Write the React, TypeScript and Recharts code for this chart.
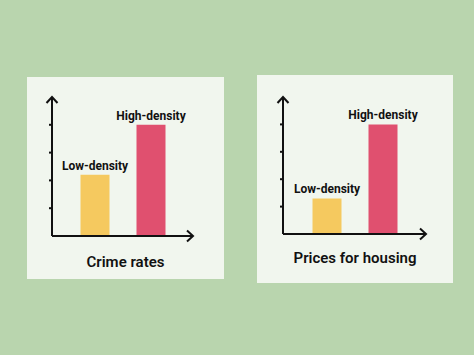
import { BarChart, Bar, XAxis, YAxis, Cell, LabelList } from "recharts";

const categories = ["Low-density", "High-density"];
const crimeValues = [2.2, 4.0];
const priceValues = [1.3, 4.0];
const yTicks = [1, 2, 3, 4];
const barColors = ["#f5c95f", "#e0506f"];

interface PanelProps {
  id: string;
  title: string;
  values: number[];
  left: number;
  top: number;
  width: number;
  height: number;
  margin: { top: number; right: number; bottom: number; left: number };
  pad: number;
  titleTop: number;
}

function Panel({ id, title, values, left, top, width, height, margin, pad, titleTop }: PanelProps) {
  const data = categories.map((name, i) => ({ name, value: values[i] }));
  const markerId = `arrow-${id}`;
  return (
    <div
      style={{
        position: "absolute",
        left,
        top,
        width,
        height,
        background: "#f1f6ee",
      }}
    >
      <BarChart width={width} height={height} data={data} margin={margin}>
        <defs>
          <marker
            id={markerId}
            viewBox="0 0 10 14"
            refX="8"
            refY="7"
            markerWidth="10"
            markerHeight="14"
            markerUnits="userSpaceOnUse"
            orient="auto-start-reverse"
          >
            <path d="M2,1.5 L8,7 L2,12.5" fill="none" stroke="#111" strokeWidth={2} />
          </marker>
        </defs>
        <XAxis
          dataKey="name"
          height={1}
          tick={false}
          tickLine={false}
          padding={{ left: pad, right: pad }}
          axisLine={{ stroke: "#111", strokeWidth: 2, markerEnd: `url(#${markerId})` }}
        />
        <YAxis
          width={1}
          domain={[0, 5]}
          ticks={yTicks}
          tickFormatter={() => ""}
          tickSize={3}
          tickLine={{ stroke: "#111", strokeWidth: 2 }}
          axisLine={{ stroke: "#111", strokeWidth: 2, markerStart: `url(#${markerId})` }}
        />
        <Bar dataKey="value" barSize={29} isAnimationActive={false}>
          {data.map((d, i) => (
            <Cell key={d.name} fill={barColors[i]} />
          ))}
          <LabelList
            dataKey="name"
            position="top"
            offset={5}
            style={{
              fill: "#111",
              fontFamily: "Roboto, sans-serif",
              fontSize: 12,
              fontWeight: 700,
            }}
          />
        </Bar>
      </BarChart>
      <div
        style={{
          position: "absolute",
          left: 0,
          width: "100%",
          top: titleTop,
          textAlign: "center",
          fontFamily: "Roboto, sans-serif",
          fontSize: 15,
          fontWeight: 600,
          color: "#111",
          lineHeight: "18px",
        }}
      >
        {title}
      </div>
    </div>
  );
}

export default function App() {
  return (
    <div
      style={{
        position: "fixed",
        left: 0,
        top: 0,
        width: 474,
        height: 355,
        background: "#b9d5ae",
        overflow: "hidden",
      }}
    >
      <Panel
        id="crime"
        title="Crime rates"
        values={crimeValues}
        left={27}
        top={77}
        width={197}
        height={202}
        margin={{ top: 20, right: 31, bottom: 42, left: 24 }}
        pad={14.5}
        titleTop={176}
      />
      <Panel
        id="price"
        title="Prices for housing"
        values={priceValues}
        left={257}
        top={75}
        width={196}
        height={208}
        margin={{ top: 22, right: 27, bottom: 48, left: 25 }}
        pad={15.5}
        titleTop={174}
      />
    </div>
  );
}
